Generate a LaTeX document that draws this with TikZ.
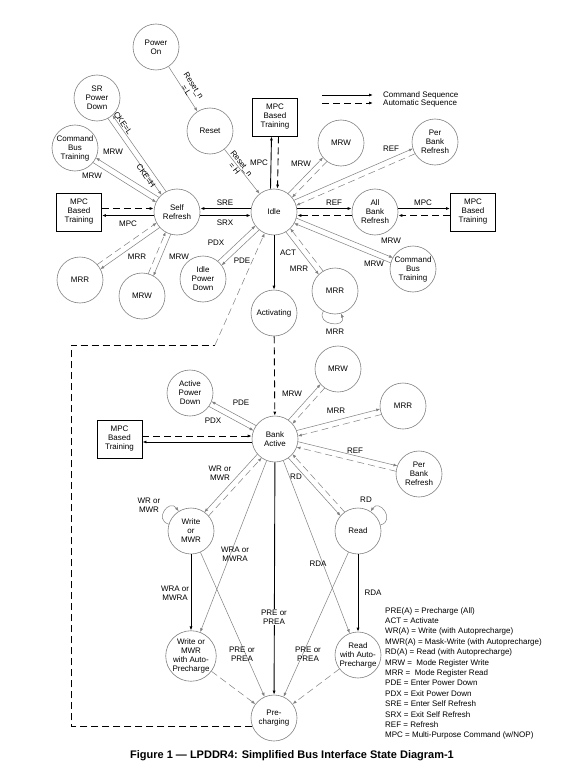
\documentclass[tikz,border=0pt]{standalone}
\usepackage{fontspec}
\setmainfont{Liberation Sans}
\usetikzlibrary{arrows.meta,calc}
\newcommand\pr[5]{\draw[#1] ($(#2)!23pt!#4:(#3)$) -- ($(#3)!23pt!#5:(#2)$);}
\begin{document}
\begin{tikzpicture}[x=1pt,y=-1pt,
  font=\fontsize{8}{9}\selectfont,
  st/.style={circle,draw=gray,line width=0.6pt,minimum size=46pt,inner sep=0pt,align=center},
  bx/.style={rectangle,draw=black,line width=0.9pt,minimum width=45pt,minimum height=38pt,inner sep=0pt,align=center},
  tip/.style={-{Latex[length=4pt,width=3pt]}},
  cmd/.style={draw=gray,line width=0.5pt,tip},
  cmdb/.style={draw=black,line width=0.9pt,tip},
  aut/.style={draw=gray,line width=0.5pt,dash pattern=on 7pt off 4pt,tip},
  autb/.style={draw=black,line width=0.9pt,dash pattern=on 7pt off 4pt,tip},
  lbl/.style={inner sep=0.5pt,align=center}]
\useasboundingbox (0,0) rectangle (588,770);
\fill[white] (0,0) rectangle (588,770);
% ---------- states ----------
\node[st] (PO) at (156,47) {Power\\On};
\node[st] (Reset) at (210,131) {Reset};
\node[st] (SRPD) at (97,98) {SR\\Power\\Down};
\node[st] (CBTL) at (75,148) {Command\\Bus\\Training};
\node[bx] (mpcL) at (79,212) {MPC\\Based\\Training};
\node[st] (SR) at (177,212) {Self\\Refresh};
\node[st] (Idle) at (274,212) {Idle};
\node[bx] (mpcT) at (275,117) {MPC\\Based\\Training};
\node[st] (MRWT) at (341,143) {MRW};
\node[st] (PBRT) at (435,142) {Per\\Bank\\Refresh};
\node[st] (ABR) at (375,212) {All\\Bank\\Refresh};
\node[bx] (mpcR) at (473,212) {MPC\\Based\\Training};
\node[st] (CBTR) at (413,269) {Command\\Bus\\Training};
\node[st] (MRRI) at (335,291) {MRR};
\node[st] (Act) at (274,313) {Activating};
\node[st] (IPD) at (203,279) {Idle\\Power\\Down};
\node[st] (MRRL) at (80,280) {MRR};
\node[st] (MRWL) at (142,296) {MRW};
\node[st] (APD) at (190,393) {Active\\Power\\Down};
\node[bx] (mpcM) at (119.5,439) {MPC\\Based\\Training};
\node[st] (BA) at (275,439) {Bank\\Active};
\node[st] (MRWM) at (338,369) {MRW};
\node[st] (MRRM) at (403,406) {MRR};
\node[st] (PBRM) at (419,474) {Per\\Bank\\Refresh};
\node[st] (Write) at (191,531) {Write\\or\\MWR};
\node[st] (Read) at (358,531) {Read};
\node[st] (WAP) at (191,656) {Write or\\MWR\\with Auto-\\Precharge};
\node[st] (RAP) at (358,655) {Read\\with Auto-\\Precharge};
\node[st] (PC) at (274,718) {Pre-\\charging};
% ---------- top part ----------
\draw[cmd] (PO) -- (Reset);
\draw[cmd] (Reset) -- (Idle);
\node[lbl,rotate=-57] (lRL) at (190,88) {Reset\_n\\= L};
\node[lbl,rotate=-52] (lRH) at (238,166) {Reset\_n\\= H};
\draw[cmdb] ([xshift=-3.5pt]Idle.north) -- ([xshift=-3.5pt]mpcT.south);
\draw[autb] ([xshift=3.5pt]mpcT.south) -- ([xshift=3.5pt]Idle.north);
\node[lbl] (lMPCt) at (259,163) {MPC};
\draw[cmdb] ([yshift=3.5pt]Idle.west) -- ([yshift=3.5pt]SR.east);
\draw[cmdb] ([yshift=-3.5pt]SR.east) -- ([yshift=-3.5pt]Idle.west);
\node[lbl] (lSRE) at (225,203) {SRE};
\node[lbl] (lSRX) at (225,223) {SRX};
\draw[autb] ([yshift=3.5pt]mpcL.east) -- ([yshift=3.5pt]SR.west);
\draw[cmdb] ([yshift=-3.5pt]SR.west) -- ([yshift=-3.5pt]mpcL.east);
\node[lbl] (lMPCl) at (128,224) {MPC};
\pr{cmd}{SR}{SRPD}{-7}{7}
\pr{cmd}{SRPD}{SR}{-7}{7}
\node[lbl,rotate=-55] (lCL) at (123,123) {CKE=L};
\node[lbl,rotate=-55] (lCH) at (146,176) {CKE=H};
\pr{cmd}{SR}{CBTL}{-7}{7}
\pr{cmd}{CBTL}{SR}{-7}{7}
\node[lbl] (lm1) at (113,152) {MRW};
\node[lbl] (lm2) at (92,176) {MRW};
\pr{cmd}{SR}{MRRL}{7}{-7}
\pr{aut}{MRRL}{SR}{7}{-7}
\node[lbl] (lm3) at (137,257) {MRR};
\pr{cmd}{SR}{MRWL}{7}{-7}
\pr{aut}{MRWL}{SR}{7}{-7}
\node[lbl] (lm4) at (179,257) {MRW};
\pr{cmd}{Idle}{IPD}{7}{-7}
\pr{cmd}{IPD}{Idle}{7}{-7}
\node[lbl] (lPDX) at (216,243) {PDX};
\node[lbl] (lPDE) at (242,261) {PDE};
\pr{cmd}{Idle}{MRWT}{7}{-7}
\pr{aut}{MRWT}{Idle}{7}{-7}
\node[lbl] (lm5) at (301,164) {MRW};
\pr{cmd}{Idle}{PBRT}{7}{-7}
\pr{aut}{PBRT}{Idle}{7}{-7}
\node[lbl] (lREFt) at (391,149) {REF};
\draw[cmdb] ([yshift=3.5pt]Idle.east) -- ([yshift=3.5pt]ABR.west);
\draw[autb] ([yshift=-3.5pt]ABR.west) -- ([yshift=-3.5pt]Idle.east);
\node[lbl] (lREFa) at (334,203) {REF};
\draw[cmdb] ([yshift=3.5pt]ABR.east) -- ([yshift=3.5pt]mpcR.west);
\draw[autb] ([yshift=-3.5pt]mpcR.west) -- ([yshift=-3.5pt]ABR.east);
\node[lbl] (lMPCr) at (423,203) {MPC};
\pr{cmd}{Idle}{CBTR}{7}{-7}
\pr{cmd}{CBTR}{Idle}{7}{-7}
\node[lbl] (lm6) at (391,241) {MRW};
\node[lbl] (lm7) at (374,264) {MRW};
\pr{cmd}{Idle}{MRRI}{-7}{7}
\pr{aut}{MRRI}{Idle}{-7}{7}
\node[lbl] (lm8) at (299,269) {MRR};
\draw[cmd] (MRRI.240) .. controls +(240:16pt) and +(290:16pt) .. (MRRI.285);
\node[lbl] (lm9) at (335,332) {MRR};
\draw[cmdb] (Idle) -- (Act);
\node[lbl] (lACT) at (288,253) {ACT};
\draw[autb] (Act) -- (BA);
% ---------- big automatic loop ----------
\coordinate (c0) at ($(PC)+(-21.6,8)$);
\coordinate (c1) at (71,726);
\coordinate (c2) at (71,345);
\coordinate (c3) at (215,345);
\draw[draw=black,line width=0.9pt,dash pattern=on 7pt off 4pt] (c0) -- (c1) -- (c2) -- (c3);
\draw[aut] (c3) -- (Idle);
% ---------- bank active part ----------
\pr{cmd}{BA}{APD}{-7}{7}
\pr{cmd}{APD}{BA}{-7}{7}
\node[lbl] (lPDE2) at (241,403) {PDE};
\node[lbl] (lPDX2) at (213,421) {PDX};
\draw[autb] ([yshift=3pt]mpcM.east) -- ([yshift=3pt]BA.west);
\draw[cmdb] ([yshift=-3pt]BA.west) -- ([yshift=-3pt]mpcM.east);
\pr{cmd}{BA}{MRWM}{7}{-7}
\pr{aut}{MRWM}{BA}{7}{-7}
\node[lbl] (ln1) at (292,394) {MRW};
\pr{cmd}{BA}{MRRM}{7}{-7}
\pr{aut}{MRRM}{BA}{7}{-7}
\node[lbl] (ln2) at (336,411) {MRR};
\pr{cmd}{BA}{PBRM}{7}{-7}
\pr{aut}{PBRM}{BA}{7}{-7}
\node[lbl] (ln3) at (355,451) {REF};
\pr{cmd}{BA}{Read}{-7}{7}
\pr{aut}{Read}{BA}{-7}{7}
\node[lbl] (ln4) at (296,477) {RD};
\pr{cmd}{BA}{Write}{-7}{7}
\pr{aut}{Write}{BA}{-7}{7}
\node[lbl] (ln5) at (220,473) {WR or\\MWR};
\draw[cmd] (Write.163) .. controls +(163:16pt) and +(125:16pt) .. (Write.122);
\node[lbl] (ln6) at (149,505) {WR or\\MWR};
\draw[cmd] (Read.15) .. controls +(15:16pt) and +(57:16pt) .. (Read.57);
\node[lbl] (ln7) at (366,500) {RD};
\draw[cmdb] (Write) -- (WAP);
\node[lbl] (ln8) at (175,593) {WRA or\\MWRA};
\draw[cmdb] (Read) -- (RAP);
\node[lbl] (ln9) at (373,593) {RDA};
\draw[cmd] (BA) -- (WAP);
\node[lbl] (ln10) at (235,554) {WRA or\\MWRA};
\draw[cmd] (BA) -- (RAP);
\node[lbl] (ln11) at (318,564) {RDA};
\draw[cmd] (Write) -- (PC);
\draw[cmd] (Read) -- (PC);
\draw[cmdb] (BA) -- (PC);
\node[lbl,fill=white] (ln12) at (274,617) {PRE or\\PREA};
\node[lbl] (ln13) at (242,654) {PRE or\\PREA};
\node[lbl] (ln14) at (308,654) {PRE or\\PREA};
\draw[aut] (WAP) -- (PC);
\draw[aut] (RAP) -- (PC);
% ---------- legends ----------
\coordinate (g1) at (322,95);
\coordinate (g2) at (373,95);
\coordinate (g3) at (322,103);
\coordinate (g4) at (373,103);
\draw[cmdb,line width=0.8pt] (g1) -- (g2);
\draw[autb,line width=0.8pt] (g3) -- (g4);
\node[anchor=west,inner sep=0pt] (t1) at (383,95) {Command Sequence};
\node[anchor=west,inner sep=0pt] (t2) at (383,103) {Automatic Sequence};
\node[anchor=north west,inner sep=0pt,align=left,font=\fontsize{8}{10.4}\selectfont] (leg) at (385,607) {PRE(A) = Precharge (All)\\ACT = Activate\\WR(A) = Write (with Autoprecharge)\\MWR(A) = Mask-Write (with Autoprecharge)\\RD(A) = Read (with Autoprecharge)\\MRW = \ Mode Register Write\\MRR = \ Mode Register Read\\PDE = Enter Power Down\\PDX = Exit Power Down\\SRE = Enter Self Refresh\\SRX = Exit Self Refresh\\REF = Refresh\\MPC = Multi-Purpose Command (w/NOP)};
\node[font=\bfseries\fontsize{11}{13}\selectfont] (title) at (292,756) {Figure 1 — LPDDR4: Simplified Bus Interface State Diagram-1};
\end{tikzpicture}
\end{document}
